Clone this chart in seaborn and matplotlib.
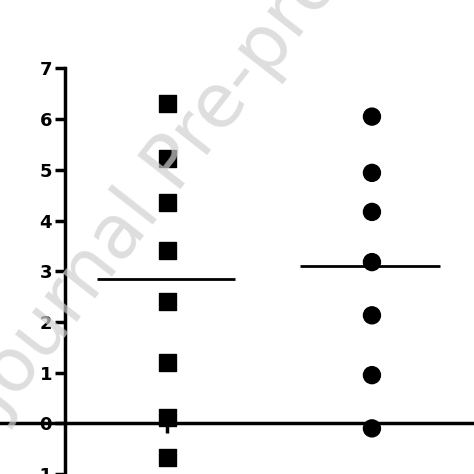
import matplotlib
matplotlib.use("Agg")
import matplotlib.pyplot as plt
import seaborn as sns
import pandas as pd

group_a = [6.3, 5.23, 4.36, 3.41, 2.40, 1.20, 0.12, -0.68]
group_b = [6.05, 4.94, 4.17, 3.18, 2.13, 0.95, -0.10]
means = [2.85, 3.1]

df = pd.DataFrame({
    "x": [0] * len(group_a) + [1] * len(group_b),
    "y": group_a + group_b,
    "g": ["A"] * len(group_a) + ["B"] * len(group_b),
})

sns.set_style("white")
fig = plt.figure(figsize=(4.74, 4.74), dpi=100)
ax = fig.add_axes([0, 0, 1, 1])

sns.scatterplot(data=df, x="x", y="y", style="g", markers={"A": "s", "B": "o"},
                color="black", s=150, edgecolor="black", legend=False, ax=ax)
ax.hlines(means[0], -0.34, 0.33, color="black", lw=2)
ax.hlines(means[1], 0.65, 1.33, color="black", lw=2)

ax.set_xlim(-0.815, 1.498)
ax.set_ylim(-0.95, 8.35)
ax.spines["left"].set_position(("data", -0.5))
ax.spines["bottom"].set_position(("data", 0))
ax.spines["top"].set_visible(False)
ax.spines["right"].set_visible(False)
for s in ("left", "bottom"):
    ax.spines[s].set_linewidth(2.5)
    ax.spines[s].set_color("black")
ax.spines["left"].set_bounds(-1, 7)
ax.set_yticks(range(-1, 8))
ax.set_yticklabels([str(v) for v in range(-1, 8)], fontsize=13, fontweight="bold",
                   color="black")
ax.set_xticks([0, 1])
ax.set_xticklabels([])
ax.tick_params(axis="both", direction="out", length=7, width=2.5, pad=2,
               left=True, bottom=True, color="black")
ax.set_xlabel("")
ax.set_ylabel("")

fig.text(0.38, 0.66, "Journal Pre-proof", fontsize=54, color="#d0d0d0", alpha=0.7,
         rotation=52, ha="center", va="center", zorder=0)

fig.savefig("out.png", dpi=100)
